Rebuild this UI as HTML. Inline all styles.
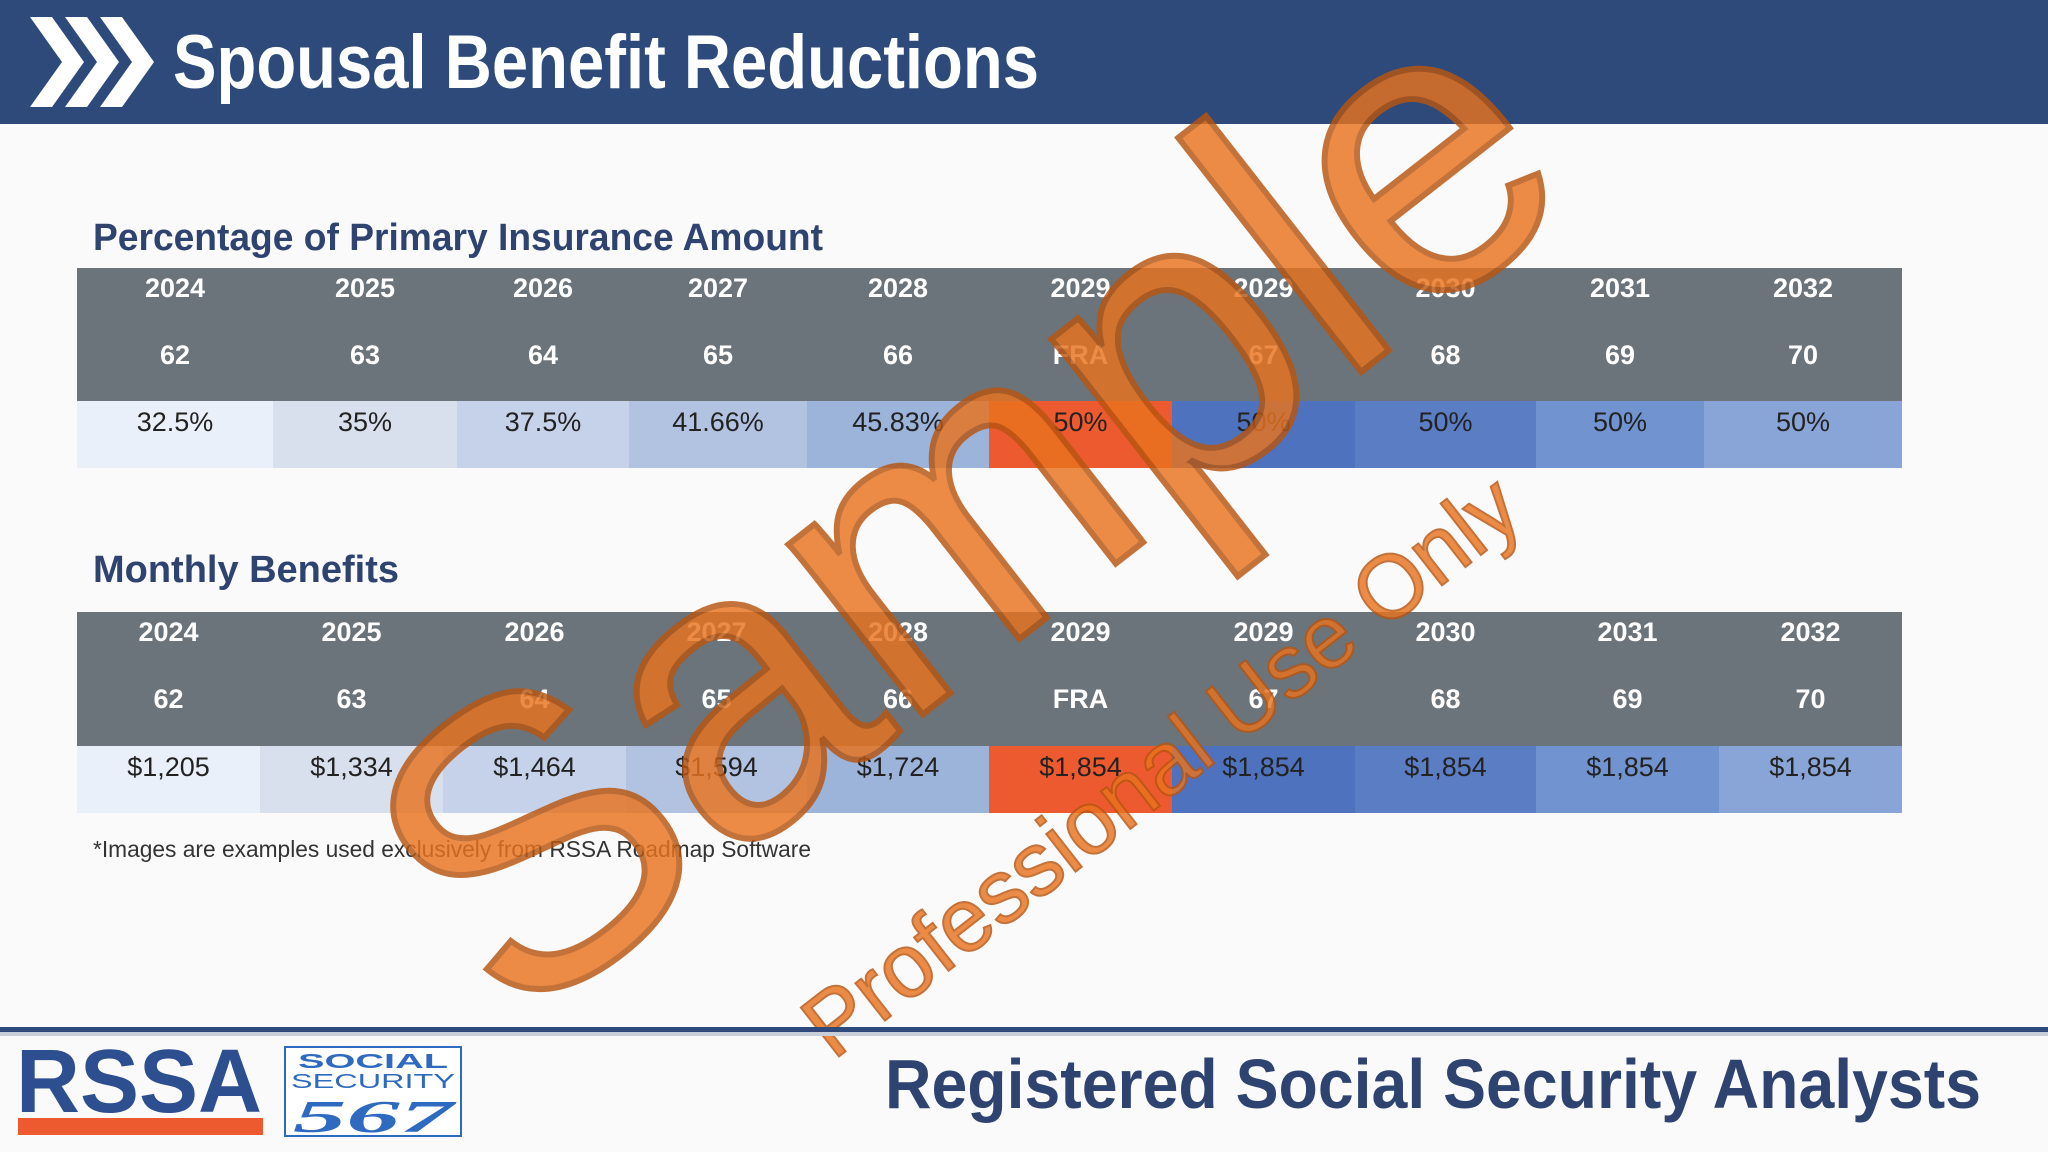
<!DOCTYPE html>
<html><head><meta charset="utf-8"><style>
html,body{margin:0;padding:0;background:#fafafa;}
svg{display:block;font-family:"Liberation Sans",sans-serif;}
</style></head><body>
<svg id="s" width="2048" height="1152" viewBox="0 0 2048 1152" xmlns="http://www.w3.org/2000/svg">
<rect x="0" y="0" width="2048" height="1152" fill="#fafafa"/>
<rect x="0" y="0" width="2048" height="124" fill="#2d4a7b"/>
<g fill="#ffffff">
<polygon points="30,17 52,17 84,62 52,107 30,107 62,62"/>
<polygon points="65,17 87,17 119,62 87,107 65,107 97,62"/>
<polygon points="100,17 122,17 154,62 122,107 100,107 132,62"/>
</g>
<text x="173" y="88" font-size="76" font-weight="bold" fill="#ffffff" textLength="866" lengthAdjust="spacingAndGlyphs">Spousal Benefit Reductions</text>
<text x="93" y="250" font-size="38" font-weight="bold" fill="#2e4370" textLength="730" lengthAdjust="spacingAndGlyphs">Percentage of Primary Insurance Amount</text>
<text x="93" y="582" font-size="38" font-weight="bold" fill="#2e4370" textLength="306" lengthAdjust="spacingAndGlyphs">Monthly Benefits</text>
<g id="t1"></g>
<g id="t2"></g>
<text x="93" y="857" font-size="23" fill="#333" textLength="718" lengthAdjust="spacingAndGlyphs">*Images are examples used exclusively from RSSA Roadmap Software</text>
<g opacity="0.82">
<text x="0" y="0" transform="translate(1050,615) rotate(-38)" text-anchor="middle" font-size="410" fill="#e8731f" stroke="#b85510" stroke-width="6" textLength="1360" lengthAdjust="spacingAndGlyphs">Sample</text>
<text x="0" y="0" transform="translate(1180,790) rotate(-38)" text-anchor="middle" font-size="90" fill="#e8731f" stroke="#b85510" stroke-width="2" textLength="880" lengthAdjust="spacingAndGlyphs">Professional Use Only</text>
</g>
<rect x="0" y="1027" width="2048" height="5" fill="#2d4a7b"/>
<rect x="0" y="1032" width="2048" height="4" fill="#c9cfd8"/>
<g>
<text x="16" y="1112" font-size="90" font-weight="bold" fill="#2d4f8f" textLength="246" lengthAdjust="spacingAndGlyphs">RSSA</text>
<rect x="18" y="1118" width="245" height="17" fill="#ee5a30"/>
</g>
<g>
<rect x="285" y="1047" width="176" height="89" fill="#fff" stroke="#2d6ac0" stroke-width="2"/>
<text x="373" y="1068" text-anchor="middle" font-size="20" font-weight="bold" fill="#2d6ac0" textLength="150" lengthAdjust="spacingAndGlyphs">SOCIAL</text>
<text x="373" y="1088" text-anchor="middle" font-size="20" fill="#2d6ac0" textLength="164" lengthAdjust="spacingAndGlyphs">SECURITY</text>
<text x="373" y="1132" text-anchor="middle" font-size="46" font-weight="bold" font-style="italic" font-family="Liberation Serif,serif" fill="#2d6ac0" textLength="160" lengthAdjust="spacingAndGlyphs">567</text>
</g>
<text x="885" y="1108" font-size="70" font-weight="bold" fill="#2e4370" textLength="1096" lengthAdjust="spacingAndGlyphs">Registered Social Security Analysts</text>
</svg>
<script>
const years = ["2024","2025","2026","2027","2028","2029","2029","2030","2031","2032"];
const ages = ["62","63","64","65","66","FRA","67","68","69","70"];
const pctValues = ["32.5%","35%","37.5%","41.66%","45.83%","50%","50%","50%","50%","50%"];
const monthlyValues = ["$1,205","$1,334","$1,464","$1,594","$1,724","$1,854","$1,854","$1,854","$1,854","$1,854"];
const cellColors = ["#eaf0f9","#d9e0ed","#c6d2e9","#b2c3e1","#9cb3da","#ee5a30","#4e72bd","#5b7dc4","#7193cf","#89a5d7"];
const t1Bounds = [77,273,457,629,807,989,1172,1355,1536,1704,1902];
const t2Bounds = [77,260,443,626,807,989,1172,1355,1536,1719,1902];
const NS = "http://www.w3.org/2000/svg";
function mk(tag, attrs, parent){const e=document.createElementNS(NS,tag);for(const k in attrs)e.setAttribute(k,attrs[k]);parent.appendChild(e);return e;}
function drawTable(g, bounds, vals, top, mid, bot, prefix){
  mk('rect',{x:bounds[0],y:top,width:bounds[bounds.length-1]-bounds[0],height:mid-top,fill:'#6b737b'},g);
  for(let i=0;i<years.length;i++){
    const x0=bounds[i], x1=bounds[i+1], cx=(x0+x1)/2;
    const c=mk('rect',{x:x0,y:mid,width:x1-x0,height:bot-mid,fill:cellColors[i]},g);
    
    
    const ty=mk('text',{x:cx,y:top+29,'text-anchor':'middle','font-size':27,'font-weight':'bold',fill:'#fff'},g);
    ty.textContent=years[i];
    
    
    const ta=mk('text',{x:cx,y:top+96,'text-anchor':'middle','font-size':27,'font-weight':'bold',fill:'#fff'},g);
    ta.textContent=ages[i];
    
    
    const tv=mk('text',{x:cx,y:mid+30,'text-anchor':'middle','font-size':27,fill:'#222'},g);
    tv.textContent=vals[i];
    
    
  }
}
drawTable(document.getElementById('t1'), t1Bounds, pctValues, 268, 401, 468, 'pia');
drawTable(document.getElementById('t2'), t2Bounds, monthlyValues, 612, 746, 813, 'monthly');
</script>
</body></html>
